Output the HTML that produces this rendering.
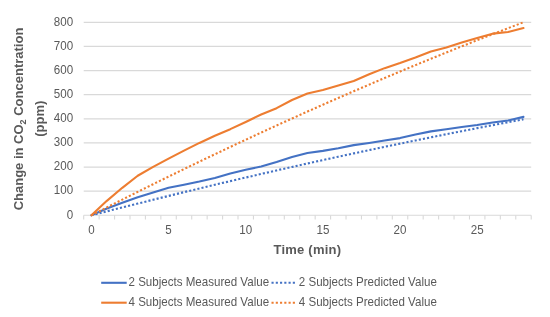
<!DOCTYPE html>
<html><head><meta charset="utf-8"><style>
html,body{margin:0;padding:0;background:#fff;width:550px;height:317px;overflow:hidden}
svg{display:block}
.t{font-family:'Liberation Sans', Arial, sans-serif;font-size:12.2px;fill:#595959}
.b{font-family:'Liberation Sans', Arial, sans-serif;font-size:13px;font-weight:bold;fill:#595959}
</style></head><body>
<svg width="550" height="317" viewBox="0 0 550 317">
<rect width="550" height="317" fill="#fff"/>
<line x1="83.7" y1="191.18" x2="531.2" y2="191.18" stroke="#D9D9D9" stroke-width="1.25"/>
<line x1="83.7" y1="167.05" x2="531.2" y2="167.05" stroke="#D9D9D9" stroke-width="1.25"/>
<line x1="83.7" y1="142.93" x2="531.2" y2="142.93" stroke="#D9D9D9" stroke-width="1.25"/>
<line x1="83.7" y1="118.80" x2="531.2" y2="118.80" stroke="#D9D9D9" stroke-width="1.25"/>
<line x1="83.7" y1="94.68" x2="531.2" y2="94.68" stroke="#D9D9D9" stroke-width="1.25"/>
<line x1="83.7" y1="70.55" x2="531.2" y2="70.55" stroke="#D9D9D9" stroke-width="1.25"/>
<line x1="83.7" y1="46.43" x2="531.2" y2="46.43" stroke="#D9D9D9" stroke-width="1.25"/>
<line x1="83.7" y1="22.30" x2="531.2" y2="22.30" stroke="#D9D9D9" stroke-width="1.25"/>
<line x1="83.7" y1="215.30" x2="531.2" y2="215.30" stroke="#D9D9D9" stroke-width="1.1"/>
<line x1="83.70" y1="215.30" x2="83.70" y2="219.50" stroke="#D9D9D9" stroke-width="1.1"/>
<line x1="99.13" y1="215.30" x2="99.13" y2="219.50" stroke="#D9D9D9" stroke-width="1.1"/>
<line x1="114.56" y1="215.30" x2="114.56" y2="219.50" stroke="#D9D9D9" stroke-width="1.1"/>
<line x1="129.99" y1="215.30" x2="129.99" y2="219.50" stroke="#D9D9D9" stroke-width="1.1"/>
<line x1="145.42" y1="215.30" x2="145.42" y2="219.50" stroke="#D9D9D9" stroke-width="1.1"/>
<line x1="160.86" y1="215.30" x2="160.86" y2="219.50" stroke="#D9D9D9" stroke-width="1.1"/>
<line x1="176.29" y1="215.30" x2="176.29" y2="219.50" stroke="#D9D9D9" stroke-width="1.1"/>
<line x1="191.72" y1="215.30" x2="191.72" y2="219.50" stroke="#D9D9D9" stroke-width="1.1"/>
<line x1="207.15" y1="215.30" x2="207.15" y2="219.50" stroke="#D9D9D9" stroke-width="1.1"/>
<line x1="222.58" y1="215.30" x2="222.58" y2="219.50" stroke="#D9D9D9" stroke-width="1.1"/>
<line x1="238.01" y1="215.30" x2="238.01" y2="219.50" stroke="#D9D9D9" stroke-width="1.1"/>
<line x1="253.44" y1="215.30" x2="253.44" y2="219.50" stroke="#D9D9D9" stroke-width="1.1"/>
<line x1="268.87" y1="215.30" x2="268.87" y2="219.50" stroke="#D9D9D9" stroke-width="1.1"/>
<line x1="284.30" y1="215.30" x2="284.30" y2="219.50" stroke="#D9D9D9" stroke-width="1.1"/>
<line x1="299.73" y1="215.30" x2="299.73" y2="219.50" stroke="#D9D9D9" stroke-width="1.1"/>
<line x1="315.17" y1="215.30" x2="315.17" y2="219.50" stroke="#D9D9D9" stroke-width="1.1"/>
<line x1="330.60" y1="215.30" x2="330.60" y2="219.50" stroke="#D9D9D9" stroke-width="1.1"/>
<line x1="346.03" y1="215.30" x2="346.03" y2="219.50" stroke="#D9D9D9" stroke-width="1.1"/>
<line x1="361.46" y1="215.30" x2="361.46" y2="219.50" stroke="#D9D9D9" stroke-width="1.1"/>
<line x1="376.89" y1="215.30" x2="376.89" y2="219.50" stroke="#D9D9D9" stroke-width="1.1"/>
<line x1="392.32" y1="215.30" x2="392.32" y2="219.50" stroke="#D9D9D9" stroke-width="1.1"/>
<line x1="407.75" y1="215.30" x2="407.75" y2="219.50" stroke="#D9D9D9" stroke-width="1.1"/>
<line x1="423.18" y1="215.30" x2="423.18" y2="219.50" stroke="#D9D9D9" stroke-width="1.1"/>
<line x1="438.61" y1="215.30" x2="438.61" y2="219.50" stroke="#D9D9D9" stroke-width="1.1"/>
<line x1="454.04" y1="215.30" x2="454.04" y2="219.50" stroke="#D9D9D9" stroke-width="1.1"/>
<line x1="469.48" y1="215.30" x2="469.48" y2="219.50" stroke="#D9D9D9" stroke-width="1.1"/>
<line x1="484.91" y1="215.30" x2="484.91" y2="219.50" stroke="#D9D9D9" stroke-width="1.1"/>
<line x1="500.34" y1="215.30" x2="500.34" y2="219.50" stroke="#D9D9D9" stroke-width="1.1"/>
<line x1="515.77" y1="215.30" x2="515.77" y2="219.50" stroke="#D9D9D9" stroke-width="1.1"/>
<line x1="531.20" y1="215.30" x2="531.20" y2="219.50" stroke="#D9D9D9" stroke-width="1.1"/>
<text transform="translate(73.1,218.60) scale(0.95,1)" text-anchor="end" class="t">0</text>
<text transform="translate(73.1,194.48) scale(0.95,1)" text-anchor="end" class="t">100</text>
<text transform="translate(73.1,170.35) scale(0.95,1)" text-anchor="end" class="t">200</text>
<text transform="translate(73.1,146.23) scale(0.95,1)" text-anchor="end" class="t">300</text>
<text transform="translate(73.1,122.10) scale(0.95,1)" text-anchor="end" class="t">400</text>
<text transform="translate(73.1,97.98) scale(0.95,1)" text-anchor="end" class="t">500</text>
<text transform="translate(73.1,73.85) scale(0.95,1)" text-anchor="end" class="t">600</text>
<text transform="translate(73.1,49.73) scale(0.95,1)" text-anchor="end" class="t">700</text>
<text transform="translate(73.1,25.60) scale(0.95,1)" text-anchor="end" class="t">800</text>
<text transform="translate(91.42,233.8) scale(0.95,1)" text-anchor="middle" class="t">0</text>
<text transform="translate(168.57,233.8) scale(0.95,1)" text-anchor="middle" class="t">5</text>
<text transform="translate(245.73,233.8) scale(0.95,1)" text-anchor="middle" class="t">10</text>
<text transform="translate(322.88,233.8) scale(0.95,1)" text-anchor="middle" class="t">15</text>
<text transform="translate(400.04,233.8) scale(0.95,1)" text-anchor="middle" class="t">20</text>
<text transform="translate(477.19,233.8) scale(0.95,1)" text-anchor="middle" class="t">25</text>
<path d="M91.42,215.30 L106.85,208.55 L122.28,202.76 L137.71,197.21 L153.14,192.38 L168.57,187.80 L184.00,184.66 L199.43,181.53 L214.86,177.91 L230.29,173.56 L245.73,169.70 L261.16,166.57 L276.59,161.98 L292.02,156.92 L307.45,153.06 L322.88,150.89 L338.31,148.23 L353.74,145.10 L369.17,142.93 L384.61,140.51 L400.04,138.10 L415.47,134.48 L430.90,131.35 L446.33,129.17 L461.76,127.00 L477.19,125.07 L492.62,122.42 L508.05,120.49 L523.48,116.87" fill="none" stroke="#4472C4" stroke-width="2.10" stroke-linejoin="round" stroke-linecap="round"/>
<path d="M91.42,215.30 L106.85,211.35 L122.28,207.43 L137.71,203.56 L153.14,199.72 L168.57,195.92 L184.00,192.16 L199.43,188.44 L214.86,184.76 L230.29,181.12 L245.73,177.52 L261.16,173.95 L276.59,170.43 L292.02,166.94 L307.45,163.49 L322.88,160.09 L338.31,156.72 L353.74,153.39 L369.17,150.09 L384.61,146.84 L400.04,143.63 L415.47,140.46 L430.90,137.32 L446.33,134.22 L461.76,131.17 L477.19,128.15 L492.62,125.17 L508.05,122.23 L523.48,119.33" fill="none" stroke="#4472C4" stroke-width="2.10" stroke-dasharray="2.10 2.10" />
<path d="M91.42,215.30 L106.85,200.83 L122.28,187.80 L137.71,175.74 L153.14,166.81 L168.57,158.61 L184.00,150.65 L199.43,142.93 L214.86,135.69 L230.29,129.17 L245.73,121.94 L261.16,114.46 L276.59,108.19 L292.02,99.98 L307.45,93.47 L322.88,90.09 L338.31,85.51 L353.74,80.92 L369.17,74.17 L384.61,68.14 L400.04,63.07 L415.47,57.52 L430.90,51.49 L446.33,47.39 L461.76,42.57 L477.19,37.98 L492.62,33.64 L508.05,31.95 L523.48,28.09" fill="none" stroke="#ED7D31" stroke-width="2.10" stroke-linejoin="round" stroke-linecap="round"/>
<path d="M91.42,215.30 L106.85,207.41 L122.28,199.60 L137.71,191.86 L153.14,184.19 L168.57,176.60 L184.00,169.08 L199.43,161.63 L214.86,154.26 L230.29,146.96 L245.73,139.74 L261.16,132.58 L276.59,125.51 L292.02,118.50 L307.45,111.57 L322.88,104.72 L338.31,97.94 L353.74,91.23 L369.17,84.59 L384.61,78.03 L400.04,71.54 L415.47,65.13 L430.90,58.79 L446.33,52.52 L461.76,46.33 L477.19,40.21 L492.62,34.17 L508.05,28.20 L523.48,22.30" fill="none" stroke="#ED7D31" stroke-width="2.10" stroke-dasharray="2.10 2.10" />
<text x="307.3" y="254" text-anchor="middle" class="b" textLength="67.5" lengthAdjust="spacing">Time (min)</text>
<text transform="translate(23,119) rotate(-90)" text-anchor="middle" class="b">Change in CO<tspan font-size="9" dy="2.5">2</tspan><tspan dy="-2.5"> Concentration</tspan></text>
<text transform="translate(43.5,118.75) rotate(-90)" text-anchor="middle" class="b">(ppm)</text>
<line x1="101.2" y1="282.8" x2="126.7" y2="282.8" stroke="#4472C4" stroke-width="2.10" /><text transform="translate(128.5,285.9) scale(0.95,1)" class="t">2 Subjects Measured Value</text>
<line x1="271.5" y1="282.8" x2="297.0" y2="282.8" stroke="#4472C4" stroke-width="2.10" stroke-dasharray="2.13 2.13"/><text transform="translate(298.8,285.9) scale(0.95,1)" class="t">2 Subjects Predicted Value</text>
<line x1="101.2" y1="302.7" x2="126.7" y2="302.7" stroke="#ED7D31" stroke-width="2.10" /><text transform="translate(128.5,305.8) scale(0.95,1)" class="t">4 Subjects Measured Value</text>
<line x1="271.5" y1="302.7" x2="297.0" y2="302.7" stroke="#ED7D31" stroke-width="2.10" stroke-dasharray="2.13 2.13"/><text transform="translate(298.8,305.8) scale(0.95,1)" class="t">4 Subjects Predicted Value</text>
</svg>
</body></html>
